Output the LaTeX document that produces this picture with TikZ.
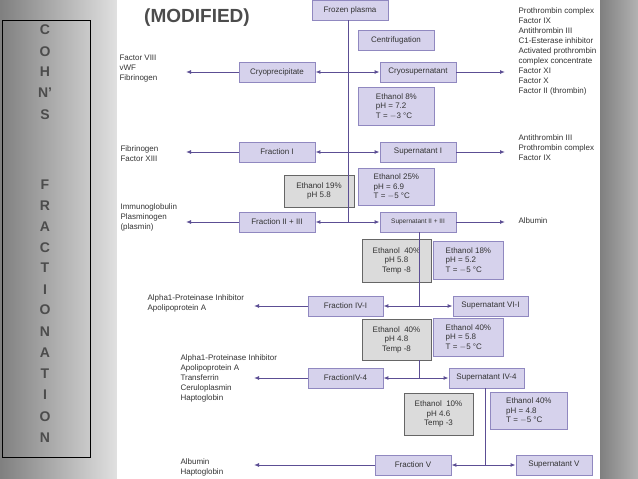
\documentclass[tikz,border=0pt]{standalone}
\usepackage{fontspec}
\setmainfont{Liberation Sans}
\usetikzlibrary{arrows.meta}
\definecolor{ln}{HTML}{5C4E94}
\definecolor{pf}{HTML}{D6D2EC}
\definecolor{pb}{HTML}{9088C0}
\begin{document}
\begin{tikzpicture}[x=1pt,y=-1pt,
  pbox/.style={draw=pb,fill=pf,line width=0.8pt,minimum height=20,inner sep=2pt,font=\fontsize{8}{9}\selectfont,text=black!80},
  gbox/.style={draw=black!60,fill=black!14,line width=0.8pt,inner sep=2pt,font=\fontsize{8}{9.5}\selectfont,align=center,text=black!80},
  cbox/.style={draw=pb,fill=pf,line width=0.8pt,inner sep=3pt,font=\fontsize{8}{9.5}\selectfont,align=left,anchor=north west,text=black!80},
  lab/.style={font=\fontsize{8}{10}\selectfont,align=left,text=black!80},
  ln/.style={draw=ln,line width=1pt},
  ar/.style={ln,-{Latex[length=5pt,width=4pt]}},
  big/.style={font=\bfseries\fontsize{14}{14}\selectfont,text=black!70}]
\useasboundingbox (0,0) rectangle (638,479);
\shade[left color=black!50,right color=black!12] (0,0) rectangle (117,479);
\shade[left color=black!50,right color=black!30] (600,0) rectangle (638,479);
\fill[white] (117,0) rectangle (600,479);
\draw[black,line width=0.8pt] (2,20) rectangle (90,457);
\foreach \t/\y in {C/30,O/52,H/72,N'/93,S/115,F/185,R/206,A/227,C/248,T/268,I/290,O/310,N/332,A/353,T/374,I/395,O/417,N/438}
  \node[big] at (45,\y) {\t};
\node[font=\bfseries\fontsize{19}{19}\selectfont,text=black!70] (title) at (197,18) {(MODIFIED)};
% boxes
\node[pbox,minimum width=76] (fp) at (350,10) {Frozen plasma};
\node[pbox,minimum width=76] (cent) at (396,40.5) {Centrifugation};
\node[pbox,minimum width=76] (cryo) at (277,72) {Cryoprecipitate};
\node[pbox,minimum width=76] (cryos) at (418,72) {Cryosupernatant};
\node[cbox,minimum width=76,minimum height=38] (e8) at (358,87) {Ethanol 8\%\\pH = 7.2\\T = $-$3 °C};
\node[pbox,minimum width=76] (f1) at (277,152) {Fraction I};
\node[pbox,minimum width=76] (s1) at (418,152) {Supernatant I};
\node[gbox,minimum width=70,minimum height=32] (e19) at (319,191) {Ethanol 19\%\\pH 5.8};
\node[cbox,minimum width=76,minimum height=37] (e25) at (358,168) {Ethanol 25\%\\pH = 6.9\\T = $-$5 °C};
\node[pbox,minimum width=76] (f23) at (277,222) {Fraction II + III};
\node[pbox,minimum width=76,font=\fontsize{6.5}{7}\selectfont] (s23) at (418,222) {Supernatant II + III};
\node[gbox,minimum width=69,minimum height=43] (e40a) at (396.5,260.5) {Ethanol\ \ 40\%\\pH 5.8\\Temp -8};
\node[cbox,minimum width=70,minimum height=38] (e18) at (433,241) {Ethanol 18\%\\pH = 5.2\\T = $-$5 °C};
\node[pbox,minimum width=75] (f41) at (345.5,306) {Fraction IV-I};
\node[pbox,minimum width=75] (s41) at (490.5,306) {Supernatant VI-I};
\node[gbox,minimum width=69,minimum height=41] (e40b) at (396.5,339.5) {Ethanol\ \ 40\%\\pH 4.8\\Temp -8};
\node[cbox,minimum width=70,minimum height=38] (e40c) at (433,318) {Ethanol 40\%\\pH = 5.8\\T = $-$5 °C};
\node[pbox,minimum width=75] (f44) at (345.5,378) {FractionIV-4};
\node[pbox,minimum width=75] (s44) at (486.5,378) {Supernatant IV-4};
\node[gbox,minimum width=69,minimum height=42] (e10) at (438.5,414) {Ethanol\ \ 10\%\\pH 4.6\\Temp -3};
\node[cbox,minimum width=77,minimum height=37] (e40d) at (490,392) {Ethanol 40\%\\pH = 4.8\\T = $-$5 °C};
\node[pbox,minimum width=76] (f5) at (413,465) {Fraction V};
\node[pbox,minimum width=76] (s5) at (554,465) {Supernatant V};
% labels
\node[lab,anchor=west] (l1) at (116,69) {Factor VIII\\vWF\\Fibrinogen};
\node[lab,anchor=west] (l2) at (117,154) {Fibrinogen\\Factor XIII};
\node[lab,anchor=west] (l3) at (117,217) {Immunoglobulin\\Plasminogen\\(plasmin)};
\node[lab,anchor=west] (l4) at (144,303) {Alpha1-Proteinase Inhibitor\\Apolipoprotein A};
\node[lab,anchor=west] (l5) at (177,378) {Alpha1-Proteinase Inhibitor\\Apolipoprotein A\\Transferrin\\Ceruloplasmin\\Haptoglobin};
\node[lab,anchor=west] (l6) at (177,467) {Albumin\\Haptoglobin};
\node[lab,anchor=north west] (r1) at (515,4) {Prothrombin complex\\Factor IX\\Antithrombin III\\C1-Esterase inhibitor\\Activated prothrombin\\complex concentrate\\Factor XI\\Factor X\\Factor II (thrombin)};
\node[lab,anchor=west] (r2) at (515,148) {Antithrombin III\\Prothrombin complex\\Factor IX};
\node[lab,anchor=west] (r3) at (515,221) {Albumin};
% coordinates
\coordinate (m1) at (348,72);
\coordinate (m2) at (348,152);
\coordinate (m3) at (348,222);
\coordinate (m4) at (419,306);
\coordinate (m5) at (419,378);
\coordinate (m6) at (485,465);
% connectors
\draw[ln] (fp.south -| m1) -- (m3);
\draw[ar] (m1) -- (cryo.east); \draw[ar] (m1) -- (cryos.west);
\draw[ar] (m2) -- (f1.east); \draw[ar] (m2) -- (s1.west);
\draw[ar] (m3) -- (f23.east); \draw[ar] (m3) -- (s23.west);
\draw[ar] (cryo.west) -- (186,72);
\draw[ar] (f1.west) -- (186,152);
\draw[ar] (f23.west) -- (186,222);
\draw[ar] (cryos.east) -- (505,72);
\draw[ar] (s1.east) -- (505,152);
\draw[ar] (s23.east) -- (505,222);
\draw[ln] (s23.south -| m4) -- (m4);
\draw[ar] (m4) -- (f41.east); \draw[ar] (m4) -- (s41.west);
\draw[ar] (f41.west) -- (254,306);
\draw[ln] (e40b.south -| m5) -- (m5);
\draw[ar] (m5) -- (f44.east); \draw[ar] (m5) -- (s44.west);
\draw[ar] (f44.west) -- (254,378);
\draw[ln] (s44.south -| m6) -- (m6);
\draw[ar] (m6) -- (f5.east); \draw[ar] (m6) -- (s5.west);
\draw[ar] (f5.west) -- (254,465);
\end{tikzpicture}
\end{document}
